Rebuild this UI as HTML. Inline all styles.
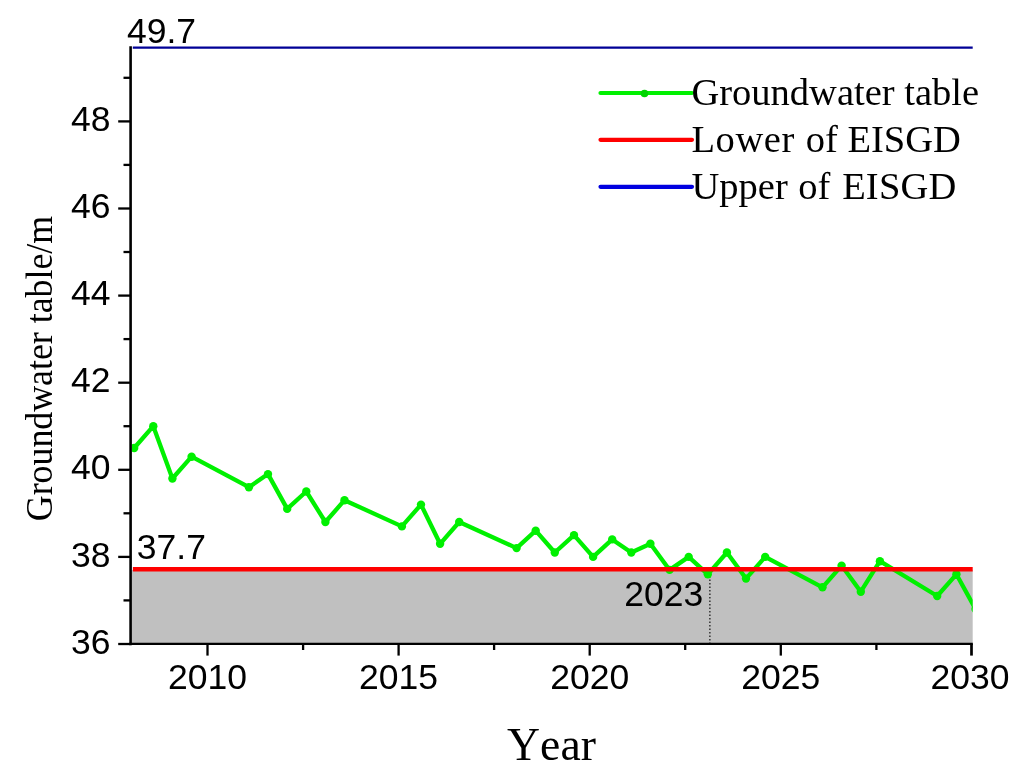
<!DOCTYPE html>
<html lang="en"><head><meta charset="utf-8"><title>Groundwater table</title>
<style>
html,body{margin:0;padding:0;background:#fff;}
body{width:1024px;height:779px;overflow:hidden;position:relative;}
svg{position:absolute;left:0;top:0;display:block;}
.sans{font-family:"Liberation Sans",Arial,sans-serif;fill:#000;}
.serif{font-family:"Liberation Serif","Times New Roman",serif;fill:#000;}
</style></head><body>
<svg width="1024" height="779" viewBox="0 0 1024 779">
<defs><clipPath id="plot"><rect x="131.9" y="40" width="840.8" height="610"/></clipPath></defs>
<rect width="1024" height="779" fill="#fff"/>
<rect x="131.9" y="569.9" width="840.8" height="74.0" fill="#c0c0c0"/>
<line x1="709.9" y1="576" x2="709.9" y2="643" stroke="#000" stroke-width="1.1" stroke-dasharray="1.6 1.9"/>
<g clip-path="url(#plot)"><polyline points="134.2,448.0 153.3,426.2 172.4,478.5 191.6,456.7 248.9,487.2 268.0,474.1 287.2,508.9 306.3,491.5 325.4,522.0 344.5,500.2 401.9,526.4 421.0,504.6 440.1,543.8 459.2,522.0 516.6,548.1 535.7,530.7 554.8,552.5 574.0,535.1 593.1,556.9 612.2,539.4 631.3,552.5 650.4,543.8 669.6,569.9 688.7,556.9 707.8,574.3 726.9,552.5 746.0,578.6 765.2,556.9 822.5,587.3 841.6,565.6 860.8,591.7 879.9,561.2 937.2,596.0 956.4,574.3 975.5,609.1" fill="none" stroke="#00f000" stroke-width="4.3" stroke-linejoin="round" stroke-linecap="round"/><g fill="#00f000"><circle cx="134.2" cy="448.0" r="4.2"/><circle cx="153.3" cy="426.2" r="4.2"/><circle cx="172.4" cy="478.5" r="4.2"/><circle cx="191.6" cy="456.7" r="4.2"/><circle cx="248.9" cy="487.2" r="4.2"/><circle cx="268.0" cy="474.1" r="4.2"/><circle cx="287.2" cy="508.9" r="4.2"/><circle cx="306.3" cy="491.5" r="4.2"/><circle cx="325.4" cy="522.0" r="4.2"/><circle cx="344.5" cy="500.2" r="4.2"/><circle cx="401.9" cy="526.4" r="4.2"/><circle cx="421.0" cy="504.6" r="4.2"/><circle cx="440.1" cy="543.8" r="4.2"/><circle cx="459.2" cy="522.0" r="4.2"/><circle cx="516.6" cy="548.1" r="4.2"/><circle cx="535.7" cy="530.7" r="4.2"/><circle cx="554.8" cy="552.5" r="4.2"/><circle cx="574.0" cy="535.1" r="4.2"/><circle cx="593.1" cy="556.9" r="4.2"/><circle cx="612.2" cy="539.4" r="4.2"/><circle cx="631.3" cy="552.5" r="4.2"/><circle cx="650.4" cy="543.8" r="4.2"/><circle cx="669.6" cy="569.9" r="4.2"/><circle cx="688.7" cy="556.9" r="4.2"/><circle cx="707.8" cy="574.3" r="4.2"/><circle cx="726.9" cy="552.5" r="4.2"/><circle cx="746.0" cy="578.6" r="4.2"/><circle cx="765.2" cy="556.9" r="4.2"/><circle cx="822.5" cy="587.3" r="4.2"/><circle cx="841.6" cy="565.6" r="4.2"/><circle cx="860.8" cy="591.7" r="4.2"/><circle cx="879.9" cy="561.2" r="4.2"/><circle cx="937.2" cy="596.0" r="4.2"/><circle cx="956.4" cy="574.3" r="4.2"/><circle cx="975.5" cy="609.1" r="4.2"/></g></g>
<line x1="132.9" y1="569.2" x2="972.7" y2="569.2" stroke="#ff0000" stroke-width="4.6"/>
<line x1="132.8" y1="47.55" x2="972.7" y2="47.55" stroke="#000096" stroke-width="2.2"/>
<line x1="130.6" y1="46.3" x2="130.6" y2="645.25" stroke="#000" stroke-width="2.6"/>
<line x1="129.29999999999998" y1="643.95" x2="972.85" y2="643.95" stroke="#000" stroke-width="2.2"/>
<line x1="118.2" y1="644.0" x2="130.6" y2="644.0" stroke="#000" stroke-width="2.3"/>
<line x1="118.2" y1="556.9" x2="130.6" y2="556.9" stroke="#000" stroke-width="2.3"/>
<line x1="118.2" y1="469.8" x2="130.6" y2="469.8" stroke="#000" stroke-width="2.3"/>
<line x1="118.2" y1="382.7" x2="130.6" y2="382.7" stroke="#000" stroke-width="2.3"/>
<line x1="118.2" y1="295.6" x2="130.6" y2="295.6" stroke="#000" stroke-width="2.3"/>
<line x1="118.2" y1="208.5" x2="130.6" y2="208.5" stroke="#000" stroke-width="2.3"/>
<line x1="118.2" y1="121.4" x2="130.6" y2="121.4" stroke="#000" stroke-width="2.3"/>
<line x1="123.5" y1="600.4" x2="130.6" y2="600.4" stroke="#000" stroke-width="2.3"/>
<line x1="123.5" y1="513.3" x2="130.6" y2="513.3" stroke="#000" stroke-width="2.3"/>
<line x1="123.5" y1="426.2" x2="130.6" y2="426.2" stroke="#000" stroke-width="2.3"/>
<line x1="123.5" y1="339.1" x2="130.6" y2="339.1" stroke="#000" stroke-width="2.3"/>
<line x1="123.5" y1="252.0" x2="130.6" y2="252.0" stroke="#000" stroke-width="2.3"/>
<line x1="123.5" y1="164.9" x2="130.6" y2="164.9" stroke="#000" stroke-width="2.3"/>
<line x1="123.5" y1="77.8" x2="130.6" y2="77.8" stroke="#000" stroke-width="2.3"/>
<line x1="207.5" y1="643.95" x2="207.5" y2="655.6" stroke="#000" stroke-width="2.3"/>
<line x1="398.6" y1="643.95" x2="398.6" y2="655.6" stroke="#000" stroke-width="2.3"/>
<line x1="589.7" y1="643.95" x2="589.7" y2="655.6" stroke="#000" stroke-width="2.3"/>
<line x1="780.8" y1="643.95" x2="780.8" y2="655.6" stroke="#000" stroke-width="2.3"/>
<line x1="971.5" y1="643.95" x2="971.5" y2="655.6" stroke="#000" stroke-width="2.7"/>
<line x1="303.1" y1="643.95" x2="303.1" y2="650" stroke="#000" stroke-width="2.3"/>
<line x1="494.1" y1="643.95" x2="494.1" y2="650" stroke="#000" stroke-width="2.3"/>
<line x1="685.2" y1="643.95" x2="685.2" y2="650" stroke="#000" stroke-width="2.3"/>
<line x1="876.4" y1="643.95" x2="876.4" y2="650" stroke="#000" stroke-width="2.3"/>
<text class="sans" x="110.5" y="653.6" font-size="35.5" text-anchor="end">36</text>
<text class="sans" x="110.5" y="566.5" font-size="35.5" text-anchor="end">38</text>
<text class="sans" x="110.5" y="479.4" font-size="35.5" text-anchor="end">40</text>
<text class="sans" x="110.5" y="392.3" font-size="35.5" text-anchor="end">42</text>
<text class="sans" x="110.5" y="305.2" font-size="35.5" text-anchor="end">44</text>
<text class="sans" x="110.5" y="218.1" font-size="35.5" text-anchor="end">46</text>
<text class="sans" x="110.5" y="131.0" font-size="35.5" text-anchor="end">48</text>
<text class="sans" x="207.5" y="689.2" font-size="35.5" text-anchor="middle">2010</text>
<text class="sans" x="398.6" y="689.2" font-size="35.5" text-anchor="middle">2015</text>
<text class="sans" x="589.7" y="689.2" font-size="35.5" text-anchor="middle">2020</text>
<text class="sans" x="780.8" y="689.2" font-size="35.5" text-anchor="middle">2025</text>
<text class="sans" x="969.9" y="689.2" font-size="35.5" text-anchor="middle">2030</text>
<text class="sans" x="127" y="42.7" font-size="35.5">49.7</text>
<text class="sans" x="136.8" y="558.6" font-size="35.5">37.7</text>
<text class="sans" x="624.3" y="605.5" font-size="35.5">2023</text>
<text class="serif" x="551.5" y="759.5" font-size="45.7" text-anchor="middle" style="font-kerning:none">Year</text>
<text class="serif" transform="translate(51.6 521.2) rotate(-90) scale(0.943 1)" font-size="38">Groundwater table/m</text>
<line x1="600.5" y1="93.0" x2="692" y2="93.0" stroke="#00f000" stroke-width="4.2" stroke-linecap="round"/>
<circle cx="644.5" cy="93.5" r="3.8" fill="#00d400"/>
<text class="serif" x="691.5" y="105.1" font-size="38.5">Groundwater table</text>
<line x1="600.5" y1="139.8" x2="692" y2="139.8" stroke="#ff0000" stroke-width="4.2" stroke-linecap="round"/>
<text class="serif" x="691.5" y="152.0" font-size="38.5"><tspan letter-spacing="0.6">Lower</tspan><tspan dx="1.2"> of EISGD</tspan></text>
<line x1="600.5" y1="186.8" x2="692" y2="186.8" stroke="#0000e0" stroke-width="4.2" stroke-linecap="round"/>
<text class="serif" x="691.5" y="198.9" font-size="38.5">Upper<tspan dx="0.9"> of</tspan><tspan dx="2" letter-spacing="0.2"> EISGD</tspan></text>
</svg></body></html>
